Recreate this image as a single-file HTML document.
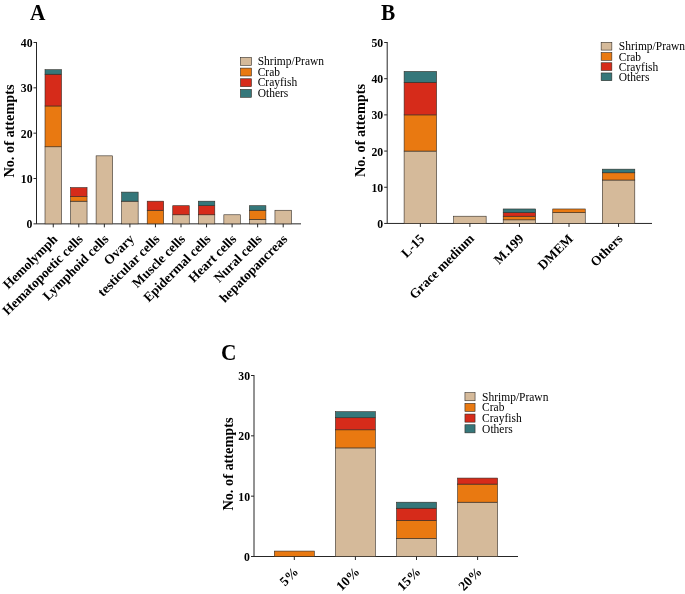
<!DOCTYPE html>
<html><head><meta charset="utf-8"><title>Figure</title>
<style>html,body{margin:0;padding:0;background:#fff}svg{display:block}
text{font-family:"Liberation Serif",serif;fill:#000}</style></head>
<body><svg width="685" height="594" viewBox="0 0 685 594">
<rect width="685" height="594" fill="#fff"/>
<text transform="translate(30 20) scale(0.97 1.06)" font-size="22" font-weight="bold">A</text>
<path d="M36.5 41.99V223.85M33.5 223.85H301" fill="none" stroke="#262626" stroke-width="1"/>
<rect x="45.00" y="146.77" width="16.50" height="77.08" fill="#D5BA9A" stroke="#2e2822" stroke-width="0.58"/>
<rect x="45.00" y="105.97" width="16.50" height="40.81" fill="#E97911" stroke="#2e2822" stroke-width="0.58"/>
<rect x="45.00" y="74.23" width="16.50" height="31.74" fill="#D62B1A" stroke="#2e2822" stroke-width="0.58"/>
<rect x="45.00" y="69.69" width="16.50" height="4.53" fill="#35777A" stroke="#2e2822" stroke-width="0.58"/>
<rect x="70.55" y="201.18" width="16.50" height="22.67" fill="#D5BA9A" stroke="#2e2822" stroke-width="0.58"/>
<rect x="70.55" y="196.65" width="16.50" height="4.53" fill="#E97911" stroke="#2e2822" stroke-width="0.58"/>
<rect x="70.55" y="187.58" width="16.50" height="9.07" fill="#D62B1A" stroke="#2e2822" stroke-width="0.58"/>
<rect x="96.10" y="155.84" width="16.50" height="68.01" fill="#D5BA9A" stroke="#2e2822" stroke-width="0.58"/>
<rect x="121.65" y="201.18" width="16.50" height="22.67" fill="#D5BA9A" stroke="#2e2822" stroke-width="0.58"/>
<rect x="121.65" y="192.11" width="16.50" height="9.07" fill="#35777A" stroke="#2e2822" stroke-width="0.58"/>
<rect x="147.20" y="210.25" width="16.50" height="13.60" fill="#E97911" stroke="#2e2822" stroke-width="0.58"/>
<rect x="147.20" y="201.18" width="16.50" height="9.07" fill="#D62B1A" stroke="#2e2822" stroke-width="0.58"/>
<rect x="172.75" y="214.78" width="16.50" height="9.07" fill="#D5BA9A" stroke="#2e2822" stroke-width="0.58"/>
<rect x="172.75" y="205.71" width="16.50" height="9.07" fill="#D62B1A" stroke="#2e2822" stroke-width="0.58"/>
<rect x="198.30" y="214.78" width="16.50" height="9.07" fill="#D5BA9A" stroke="#2e2822" stroke-width="0.58"/>
<rect x="198.30" y="205.71" width="16.50" height="9.07" fill="#D62B1A" stroke="#2e2822" stroke-width="0.58"/>
<rect x="198.30" y="201.18" width="16.50" height="4.53" fill="#35777A" stroke="#2e2822" stroke-width="0.58"/>
<rect x="223.85" y="214.78" width="16.50" height="9.07" fill="#D5BA9A" stroke="#2e2822" stroke-width="0.58"/>
<rect x="249.40" y="219.32" width="16.50" height="4.53" fill="#D5BA9A" stroke="#2e2822" stroke-width="0.58"/>
<rect x="249.40" y="210.25" width="16.50" height="9.07" fill="#E97911" stroke="#2e2822" stroke-width="0.58"/>
<rect x="249.40" y="205.71" width="16.50" height="4.53" fill="#35777A" stroke="#2e2822" stroke-width="0.58"/>
<rect x="274.95" y="210.25" width="16.50" height="13.60" fill="#D5BA9A" stroke="#2e2822" stroke-width="0.58"/>
<text transform="translate(32.50 228.45) scale(0.957 1.0)" font-size="12.3" font-weight="bold" text-anchor="end">0</text>
<path d="M33.5 178.51H36.5" stroke="#262626" stroke-width="1"/>
<text transform="translate(32.50 183.11) scale(0.957 1.0)" font-size="12.3" font-weight="bold" text-anchor="end">10</text>
<path d="M33.5 133.17H36.5" stroke="#262626" stroke-width="1"/>
<text transform="translate(32.50 137.77) scale(0.957 1.0)" font-size="12.3" font-weight="bold" text-anchor="end">20</text>
<path d="M33.5 87.83H36.5" stroke="#262626" stroke-width="1"/>
<text transform="translate(32.50 92.43) scale(0.957 1.0)" font-size="12.3" font-weight="bold" text-anchor="end">30</text>
<path d="M33.5 42.49H36.5" stroke="#262626" stroke-width="1"/>
<text transform="translate(32.50 47.09) scale(0.957 1.0)" font-size="12.3" font-weight="bold" text-anchor="end">40</text>
<path d="M53.25 223.85v3.5" stroke="#262626" stroke-width="1"/>
<text transform="translate(58.25 239.85) rotate(-45)" font-size="13.4" font-weight="bold" text-anchor="end">Hemolymph</text>
<path d="M78.80 223.85v3.5" stroke="#262626" stroke-width="1"/>
<text transform="translate(83.80 239.85) rotate(-45)" font-size="13.4" font-weight="bold" text-anchor="end">Hematopoetic cells</text>
<path d="M104.35 223.85v3.5" stroke="#262626" stroke-width="1"/>
<text transform="translate(109.35 239.85) rotate(-45)" font-size="13.4" font-weight="bold" text-anchor="end">Lymphoid cells</text>
<path d="M129.90 223.85v3.5" stroke="#262626" stroke-width="1"/>
<text transform="translate(134.90 239.85) rotate(-45)" font-size="13.4" font-weight="bold" text-anchor="end">Ovary</text>
<path d="M155.45 223.85v3.5" stroke="#262626" stroke-width="1"/>
<text transform="translate(160.45 239.85) rotate(-45)" font-size="13.4" font-weight="bold" text-anchor="end">testicular cells</text>
<path d="M181.00 223.85v3.5" stroke="#262626" stroke-width="1"/>
<text transform="translate(186.00 239.85) rotate(-45)" font-size="13.4" font-weight="bold" text-anchor="end">Muscle cells</text>
<path d="M206.55 223.85v3.5" stroke="#262626" stroke-width="1"/>
<text transform="translate(211.55 239.85) rotate(-45)" font-size="13.4" font-weight="bold" text-anchor="end">Epidermal cells</text>
<path d="M232.10 223.85v3.5" stroke="#262626" stroke-width="1"/>
<text transform="translate(237.10 239.85) rotate(-45)" font-size="13.4" font-weight="bold" text-anchor="end">Heart cells</text>
<path d="M257.65 223.85v3.5" stroke="#262626" stroke-width="1"/>
<text transform="translate(262.65 239.85) rotate(-45)" font-size="13.4" font-weight="bold" text-anchor="end">Nural cells</text>
<path d="M283.20 223.85v3.5" stroke="#262626" stroke-width="1"/>
<text transform="translate(288.20 239.85) rotate(-45)" font-size="13.4" font-weight="bold" text-anchor="end">hepatopancreas</text>
<text transform="translate(14.1 131.00) rotate(-90) scale(1 0.96)" font-size="14.3" font-weight="bold" text-anchor="middle">No. of attempts</text>
<rect x="240.45" y="57.45" width="11.0" height="7.9" fill="#D5BA9A" stroke="#2e2822" stroke-width="0.58"/>
<text transform="translate(257.7 65.05) scale(0.945 1)" font-size="12.15">Shrimp/Prawn</text>
<rect x="240.45" y="68.10" width="11.0" height="7.9" fill="#E97911" stroke="#2e2822" stroke-width="0.58"/>
<text transform="translate(257.7 75.70) scale(0.945 1)" font-size="12.15">Crab</text>
<rect x="240.45" y="78.75" width="11.0" height="7.9" fill="#D62B1A" stroke="#2e2822" stroke-width="0.58"/>
<text transform="translate(257.7 86.35) scale(0.945 1)" font-size="12.15">Crayfish</text>
<rect x="240.45" y="89.40" width="11.0" height="7.9" fill="#35777A" stroke="#2e2822" stroke-width="0.58"/>
<text transform="translate(257.7 97.00) scale(0.945 1)" font-size="12.15">Others</text>
<text transform="translate(381 20) scale(0.97 1.06)" font-size="22" font-weight="bold">B</text>
<path d="M387.2 42.00V223.45M384.2 223.45H652" fill="none" stroke="#262626" stroke-width="1"/>
<rect x="404.10" y="151.07" width="32.50" height="72.38" fill="#D5BA9A" stroke="#2e2822" stroke-width="0.58"/>
<rect x="404.10" y="114.88" width="32.50" height="36.19" fill="#E97911" stroke="#2e2822" stroke-width="0.58"/>
<rect x="404.10" y="82.31" width="32.50" height="32.57" fill="#D62B1A" stroke="#2e2822" stroke-width="0.58"/>
<rect x="404.10" y="71.45" width="32.50" height="10.86" fill="#35777A" stroke="#2e2822" stroke-width="0.58"/>
<rect x="453.65" y="216.21" width="32.50" height="7.24" fill="#D5BA9A" stroke="#2e2822" stroke-width="0.58"/>
<rect x="503.20" y="219.83" width="32.50" height="3.62" fill="#D5BA9A" stroke="#2e2822" stroke-width="0.58"/>
<rect x="503.20" y="216.21" width="32.50" height="3.62" fill="#E97911" stroke="#2e2822" stroke-width="0.58"/>
<rect x="503.20" y="212.59" width="32.50" height="3.62" fill="#D62B1A" stroke="#2e2822" stroke-width="0.58"/>
<rect x="503.20" y="208.97" width="32.50" height="3.62" fill="#35777A" stroke="#2e2822" stroke-width="0.58"/>
<rect x="552.75" y="212.59" width="32.50" height="10.86" fill="#D5BA9A" stroke="#2e2822" stroke-width="0.58"/>
<rect x="552.75" y="208.97" width="32.50" height="3.62" fill="#E97911" stroke="#2e2822" stroke-width="0.58"/>
<rect x="602.30" y="180.02" width="32.50" height="43.43" fill="#D5BA9A" stroke="#2e2822" stroke-width="0.58"/>
<rect x="602.30" y="172.78" width="32.50" height="7.24" fill="#E97911" stroke="#2e2822" stroke-width="0.58"/>
<rect x="602.30" y="169.16" width="32.50" height="3.62" fill="#35777A" stroke="#2e2822" stroke-width="0.58"/>
<text transform="translate(383.20 228.05) scale(0.957 1.0)" font-size="12.3" font-weight="bold" text-anchor="end">0</text>
<path d="M384.2 187.26H387.2" stroke="#262626" stroke-width="1"/>
<text transform="translate(383.20 191.86) scale(0.957 1.0)" font-size="12.3" font-weight="bold" text-anchor="end">10</text>
<path d="M384.2 151.07H387.2" stroke="#262626" stroke-width="1"/>
<text transform="translate(383.20 155.67) scale(0.957 1.0)" font-size="12.3" font-weight="bold" text-anchor="end">20</text>
<path d="M384.2 114.88H387.2" stroke="#262626" stroke-width="1"/>
<text transform="translate(383.20 119.48) scale(0.957 1.0)" font-size="12.3" font-weight="bold" text-anchor="end">30</text>
<path d="M384.2 78.69H387.2" stroke="#262626" stroke-width="1"/>
<text transform="translate(383.20 83.29) scale(0.957 1.0)" font-size="12.3" font-weight="bold" text-anchor="end">40</text>
<path d="M384.2 42.50H387.2" stroke="#262626" stroke-width="1"/>
<text transform="translate(383.20 47.10) scale(0.957 1.0)" font-size="12.3" font-weight="bold" text-anchor="end">50</text>
<path d="M420.35 223.45v3.5" stroke="#262626" stroke-width="1"/>
<text transform="translate(425.35 239.45) rotate(-45)" font-size="13.4" font-weight="bold" text-anchor="end">L-15</text>
<path d="M469.90 223.45v3.5" stroke="#262626" stroke-width="1"/>
<text transform="translate(474.90 239.45) rotate(-45)" font-size="13.4" font-weight="bold" text-anchor="end">Grace medium</text>
<path d="M519.45 223.45v3.5" stroke="#262626" stroke-width="1"/>
<text transform="translate(524.45 239.45) rotate(-45)" font-size="13.4" font-weight="bold" text-anchor="end">M.199</text>
<path d="M569.00 223.45v3.5" stroke="#262626" stroke-width="1"/>
<text transform="translate(574.00 239.45) rotate(-45)" font-size="13.4" font-weight="bold" text-anchor="end">DMEM</text>
<path d="M618.55 223.45v3.5" stroke="#262626" stroke-width="1"/>
<text transform="translate(623.55 239.45) rotate(-45)" font-size="13.4" font-weight="bold" text-anchor="end">Others</text>
<text transform="translate(365.3 130.50) rotate(-90) scale(1 0.96)" font-size="14.3" font-weight="bold" text-anchor="middle">No. of attempts</text>
<rect x="601.15" y="42.35" width="10.7" height="7.75" fill="#D5BA9A" stroke="#2e2822" stroke-width="0.58"/>
<text transform="translate(618.8 50.30) scale(0.945 1)" font-size="12.15">Shrimp/Prawn</text>
<rect x="601.15" y="52.55" width="10.7" height="7.75" fill="#E97911" stroke="#2e2822" stroke-width="0.58"/>
<text transform="translate(618.8 60.50) scale(0.945 1)" font-size="12.15">Crab</text>
<rect x="601.15" y="62.75" width="10.7" height="7.75" fill="#D62B1A" stroke="#2e2822" stroke-width="0.58"/>
<text transform="translate(618.8 70.70) scale(0.945 1)" font-size="12.15">Crayfish</text>
<rect x="601.15" y="72.95" width="10.7" height="7.75" fill="#35777A" stroke="#2e2822" stroke-width="0.58"/>
<text transform="translate(618.8 80.90) scale(0.945 1)" font-size="12.15">Others</text>
<text transform="translate(221 360) scale(0.97 1.06)" font-size="22" font-weight="bold">C</text>
<path d="M254.0 375.01V556.50M251.0 556.50H518" fill="none" stroke="#262626" stroke-width="1"/>
<rect x="274.30" y="551.07" width="40.00" height="5.43" fill="#E97911" stroke="#2e2822" stroke-width="0.58"/>
<rect x="335.40" y="447.91" width="40.00" height="108.59" fill="#D5BA9A" stroke="#2e2822" stroke-width="0.58"/>
<rect x="335.40" y="429.81" width="40.00" height="18.10" fill="#E97911" stroke="#2e2822" stroke-width="0.58"/>
<rect x="335.40" y="417.74" width="40.00" height="12.07" fill="#D62B1A" stroke="#2e2822" stroke-width="0.58"/>
<rect x="335.40" y="411.71" width="40.00" height="6.03" fill="#35777A" stroke="#2e2822" stroke-width="0.58"/>
<rect x="396.50" y="538.40" width="40.00" height="18.10" fill="#D5BA9A" stroke="#2e2822" stroke-width="0.58"/>
<rect x="396.50" y="520.30" width="40.00" height="18.10" fill="#E97911" stroke="#2e2822" stroke-width="0.58"/>
<rect x="396.50" y="508.24" width="40.00" height="12.07" fill="#D62B1A" stroke="#2e2822" stroke-width="0.58"/>
<rect x="396.50" y="502.20" width="40.00" height="6.03" fill="#35777A" stroke="#2e2822" stroke-width="0.58"/>
<rect x="457.60" y="502.20" width="40.00" height="54.30" fill="#D5BA9A" stroke="#2e2822" stroke-width="0.58"/>
<rect x="457.60" y="484.10" width="40.00" height="18.10" fill="#E97911" stroke="#2e2822" stroke-width="0.58"/>
<rect x="457.60" y="478.07" width="40.00" height="6.03" fill="#D62B1A" stroke="#2e2822" stroke-width="0.58"/>
<text transform="translate(250.00 561.10) scale(0.957 1.0)" font-size="12.3" font-weight="bold" text-anchor="end">0</text>
<path d="M251.0 496.17H254.0" stroke="#262626" stroke-width="1"/>
<text transform="translate(250.00 500.77) scale(0.957 1.0)" font-size="12.3" font-weight="bold" text-anchor="end">10</text>
<path d="M251.0 435.84H254.0" stroke="#262626" stroke-width="1"/>
<text transform="translate(250.00 440.44) scale(0.957 1.0)" font-size="12.3" font-weight="bold" text-anchor="end">20</text>
<path d="M251.0 375.51H254.0" stroke="#262626" stroke-width="1"/>
<text transform="translate(250.00 380.11) scale(0.957 1.0)" font-size="12.3" font-weight="bold" text-anchor="end">30</text>
<path d="M294.30 556.50v3.5" stroke="#262626" stroke-width="1"/>
<text transform="translate(299.30 572.50) rotate(-45)" font-size="13.4" font-weight="bold" text-anchor="end">5%</text>
<path d="M355.40 556.50v3.5" stroke="#262626" stroke-width="1"/>
<text transform="translate(360.40 572.50) rotate(-45)" font-size="13.4" font-weight="bold" text-anchor="end">10%</text>
<path d="M416.50 556.50v3.5" stroke="#262626" stroke-width="1"/>
<text transform="translate(421.50 572.50) rotate(-45)" font-size="13.4" font-weight="bold" text-anchor="end">15%</text>
<path d="M477.60 556.50v3.5" stroke="#262626" stroke-width="1"/>
<text transform="translate(482.60 572.50) rotate(-45)" font-size="13.4" font-weight="bold" text-anchor="end">20%</text>
<text transform="translate(232.6 464.00) rotate(-90) scale(1 0.96)" font-size="14.3" font-weight="bold" text-anchor="middle">No. of attempts</text>
<rect x="464.95" y="392.65" width="10.1" height="8.1" fill="#D5BA9A" stroke="#2e2822" stroke-width="0.58"/>
<text transform="translate(482.1 400.55) scale(0.945 1)" font-size="12.15">Shrimp/Prawn</text>
<rect x="464.95" y="403.35" width="10.1" height="8.1" fill="#E97911" stroke="#2e2822" stroke-width="0.58"/>
<text transform="translate(482.1 411.25) scale(0.945 1)" font-size="12.15">Crab</text>
<rect x="464.95" y="414.05" width="10.1" height="8.1" fill="#D62B1A" stroke="#2e2822" stroke-width="0.58"/>
<text transform="translate(482.1 421.95) scale(0.945 1)" font-size="12.15">Crayfish</text>
<rect x="464.95" y="424.75" width="10.1" height="8.1" fill="#35777A" stroke="#2e2822" stroke-width="0.58"/>
<text transform="translate(482.1 432.65) scale(0.945 1)" font-size="12.15">Others</text>
</svg></body></html>
